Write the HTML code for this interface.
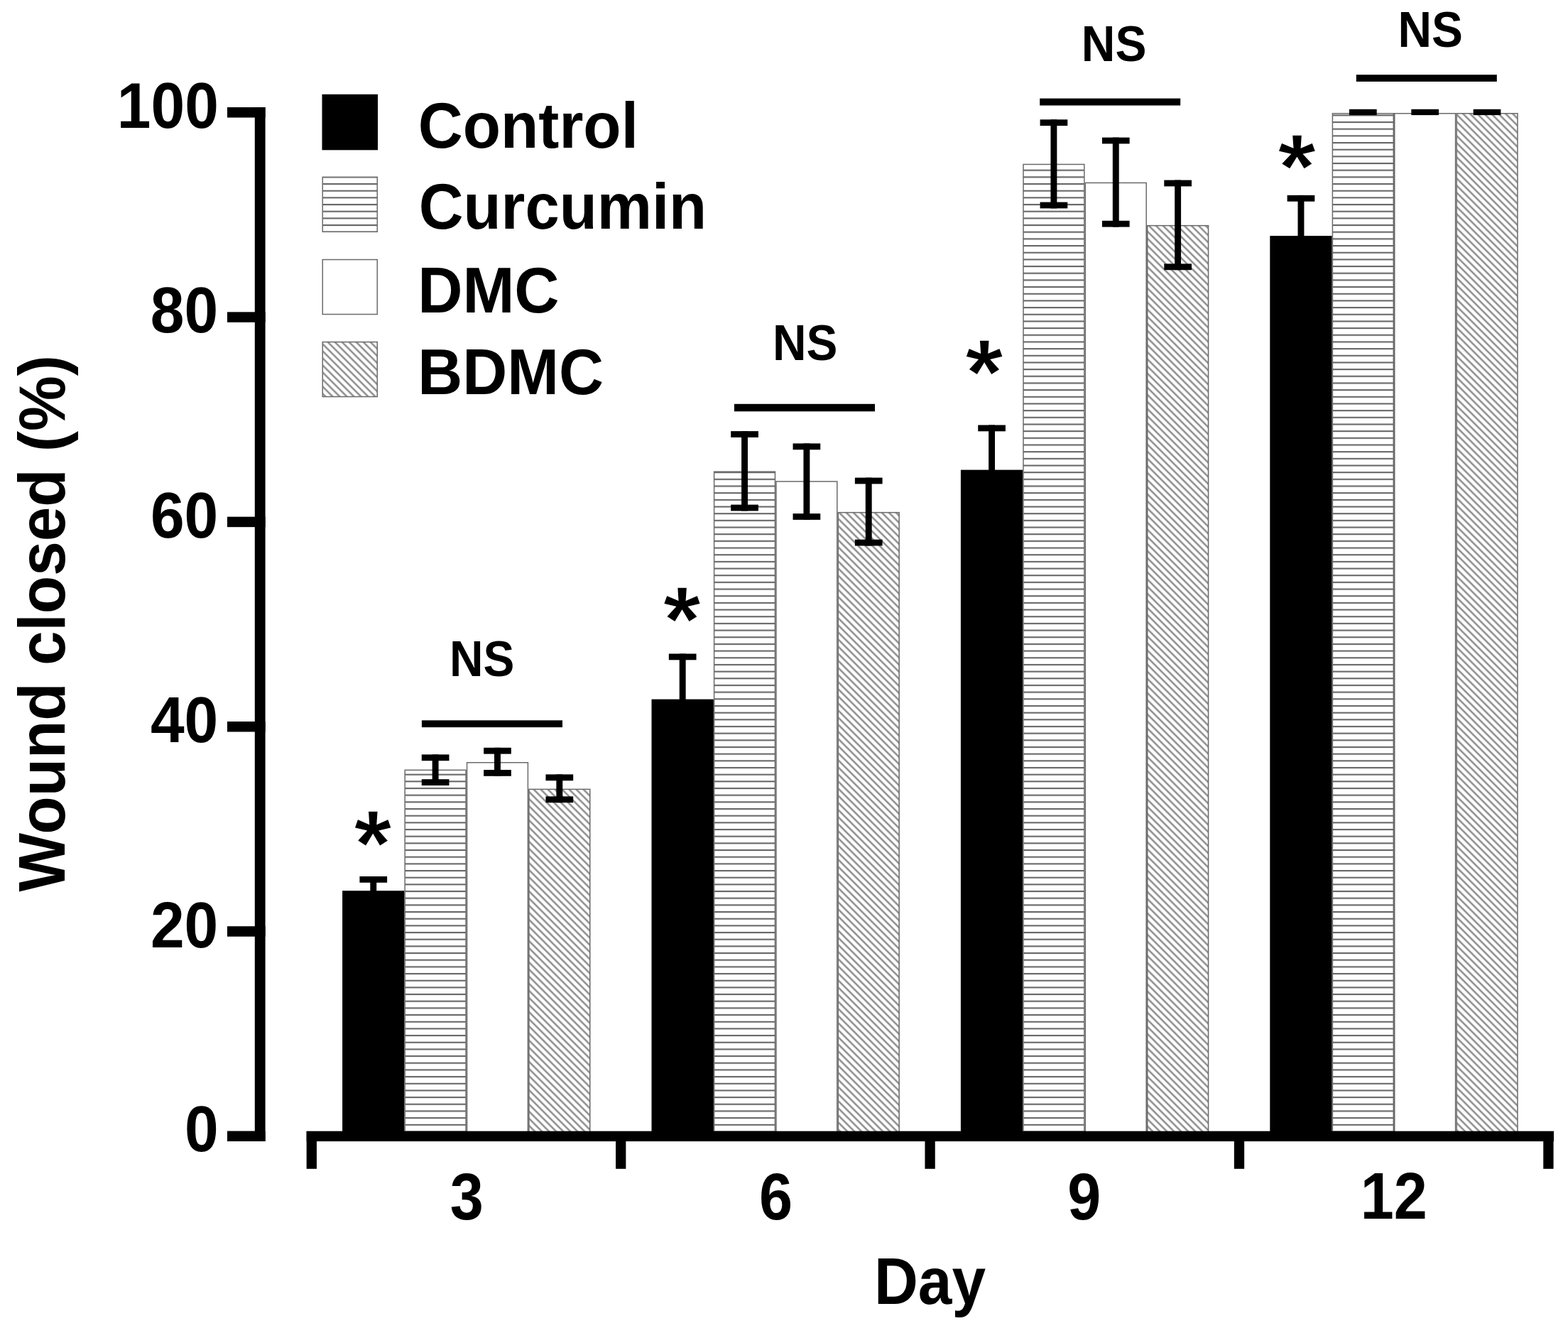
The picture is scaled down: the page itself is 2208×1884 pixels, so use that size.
<!DOCTYPE html>
<html><head><meta charset="utf-8"><title>Wound closed (%) by Day</title>
<style>html,body{margin:0;padding:0;background:#fff;} svg{display:block;}</style></head>
<body>
<svg width="2208" height="1884" viewBox="0 0 2208 1884">
<defs>
<pattern id="hz" patternUnits="userSpaceOnUse" x="0" y="6.6" width="20" height="9.67"><rect width="20" height="9.67" fill="#fff"/><rect x="0" y="0" width="20" height="2.1" fill="#666"/></pattern>
<pattern id="dg" patternUnits="userSpaceOnUse" width="10" height="10"><rect width="10" height="10" fill="#fff"/><path d="M-2,-2 L12,12 M-12,-2 L2,12 M8,-2 L22,12" stroke="#b4b4b4" stroke-width="3.2"/><path d="M-2,-2 L12,12 M-12,-2 L2,12 M8,-2 L22,12" stroke="#6a6a6a" stroke-width="0.9"/></pattern>
</defs>
<rect width="2208" height="1884" fill="#fff"/>
<g><rect x="482.10" y="1254.20" width="87.35" height="345.80" fill="#000"/><rect x="570.20" y="1084.35" width="85.85" height="516.40" fill="url(#hz)" stroke="#6a6a6a" stroke-width="1.5"/><rect x="657.55" y="1073.75" width="85.85" height="527.00" fill="#fff" stroke="#6a6a6a" stroke-width="1.5"/><rect x="744.90" y="1111.35" width="85.85" height="489.40" fill="url(#dg)" stroke="#6a6a6a" stroke-width="1.5"/><rect x="917.50" y="984.60" width="87.35" height="615.40" fill="#000"/><rect x="1005.60" y="664.15" width="85.85" height="936.60" fill="url(#hz)" stroke="#6a6a6a" stroke-width="1.5"/><rect x="1092.95" y="677.95" width="85.85" height="922.80" fill="#fff" stroke="#6a6a6a" stroke-width="1.5"/><rect x="1180.30" y="721.65" width="85.85" height="879.10" fill="url(#dg)" stroke="#6a6a6a" stroke-width="1.5"/><rect x="1352.90" y="661.60" width="87.35" height="938.40" fill="#000"/><rect x="1441.00" y="231.45" width="85.85" height="1369.30" fill="url(#hz)" stroke="#6a6a6a" stroke-width="1.5"/><rect x="1528.35" y="257.45" width="85.85" height="1343.30" fill="#fff" stroke="#6a6a6a" stroke-width="1.5"/><rect x="1615.70" y="317.65" width="85.85" height="1283.10" fill="url(#dg)" stroke="#6a6a6a" stroke-width="1.5"/><rect x="1788.30" y="332.10" width="87.35" height="1267.90" fill="#000"/><rect x="1876.40" y="159.75" width="85.85" height="1441.00" fill="url(#hz)" stroke="#6a6a6a" stroke-width="1.5"/><rect x="1963.75" y="159.75" width="85.85" height="1441.00" fill="#fff" stroke="#6a6a6a" stroke-width="1.5"/><rect x="2051.10" y="159.75" width="85.85" height="1441.00" fill="url(#dg)" stroke="#6a6a6a" stroke-width="1.5"/></g>
<g fill="#000"><rect x="506.42" y="1234.00" width="38.7" height="8.8"/><rect x="521.32" y="1234.00" width="8.9" height="21.20"/><rect x="593.77" y="1062.40" width="38.7" height="8.8"/><rect x="593.77" y="1097.20" width="38.7" height="8.8"/><rect x="608.67" y="1062.40" width="8.9" height="43.60"/><rect x="681.12" y="1052.80" width="38.7" height="8.8"/><rect x="681.12" y="1084.00" width="38.7" height="8.8"/><rect x="696.02" y="1052.80" width="8.9" height="40.00"/><rect x="768.47" y="1090.40" width="38.7" height="8.8"/><rect x="768.47" y="1121.40" width="38.7" height="8.8"/><rect x="783.37" y="1090.40" width="8.9" height="39.80"/><rect x="941.82" y="920.50" width="38.7" height="8.8"/><rect x="956.72" y="920.50" width="8.9" height="65.10"/><rect x="1029.18" y="607.10" width="38.7" height="8.8"/><rect x="1029.18" y="710.60" width="38.7" height="8.8"/><rect x="1044.08" y="607.10" width="8.9" height="112.30"/><rect x="1116.53" y="624.40" width="38.7" height="8.8"/><rect x="1116.53" y="723.10" width="38.7" height="8.8"/><rect x="1131.42" y="624.40" width="8.9" height="107.50"/><rect x="1203.88" y="672.60" width="38.7" height="8.8"/><rect x="1203.88" y="759.70" width="38.7" height="8.8"/><rect x="1218.77" y="672.60" width="8.9" height="95.90"/><rect x="1377.23" y="598.50" width="38.7" height="8.8"/><rect x="1392.12" y="598.50" width="8.9" height="64.10"/><rect x="1464.58" y="168.30" width="38.7" height="8.8"/><rect x="1464.58" y="284.60" width="38.7" height="8.8"/><rect x="1479.47" y="168.30" width="8.9" height="125.10"/><rect x="1551.93" y="193.60" width="38.7" height="8.8"/><rect x="1551.93" y="310.80" width="38.7" height="8.8"/><rect x="1566.83" y="193.60" width="8.9" height="126.00"/><rect x="1639.28" y="253.60" width="38.7" height="8.8"/><rect x="1639.28" y="371.40" width="38.7" height="8.8"/><rect x="1654.17" y="253.60" width="8.9" height="126.60"/><rect x="1812.62" y="274.90" width="38.7" height="8.8"/><rect x="1827.52" y="274.90" width="8.9" height="58.20"/><rect x="1899.97" y="153.80" width="38.7" height="8.30"/><rect x="1987.32" y="153.80" width="38.7" height="8.30"/><rect x="2074.67" y="153.80" width="38.7" height="8.30"/></g>
<g fill="#000"><rect x="358.8" y="151.0" width="14.8" height="1456.0"/><rect x="320.0" y="151.05" width="53.6" height="14.5"/><rect x="320.0" y="439.35" width="53.6" height="14.5"/><rect x="320.0" y="727.65" width="53.6" height="14.5"/><rect x="320.0" y="1015.95" width="53.6" height="14.5"/><rect x="320.0" y="1304.25" width="53.6" height="14.5"/><rect x="320.0" y="1592.55" width="53.6" height="14.5"/><rect x="431.7" y="1592.7" width="1756.3" height="14.4"/><rect x="431.65" y="1593.0" width="14.3" height="52.8"/><rect x="867.05" y="1593.0" width="14.3" height="52.8"/><rect x="1302.45" y="1593.0" width="14.3" height="52.8"/><rect x="1737.85" y="1593.0" width="14.3" height="52.8"/><rect x="2173.25" y="1593.0" width="14.3" height="52.8"/><rect x="593.9" y="1014.3" width="198.1" height="9.8"/><rect x="1033.9" y="568.8" width="198.1" height="10.5"/><rect x="1464.2" y="138.6" width="198.0" height="9.9"/><rect x="1909.8" y="105.2" width="198.0" height="9.7"/></g>
<g><rect x="453.5" y="132.8" width="78.5" height="78.5" fill="#000"/><rect x="454.25" y="249.35" width="77.0" height="77.0" fill="url(#hz)" stroke="#6a6a6a" stroke-width="1.5"/><rect x="454.25" y="365.55" width="77.0" height="77.0" fill="#fff" stroke="#6a6a6a" stroke-width="1.5"/><rect x="454.25" y="481.55" width="77.0" height="77.0" fill="url(#dg)" stroke="#6a6a6a" stroke-width="1.5"/></g>
<g font-family='"Liberation Sans", Arial, Helvetica, sans-serif' font-weight="bold" fill="#000">
<text transform="translate(164.84 180.00) scale(0.9429 1)" font-size="91">100</text>
<text transform="translate(211.79 468.40) scale(0.9429 1)" font-size="91">80</text>
<text transform="translate(211.89 756.70) scale(0.9429 1)" font-size="91">60</text>
<text transform="translate(211.89 1045.00) scale(0.9429 1)" font-size="91">40</text>
<text transform="translate(211.89 1334.20) scale(0.9429 1)" font-size="91">20</text>
<text transform="translate(259.88 1621.30) scale(0.9429 1)" font-size="91">0</text>
<text transform="translate(633.73 1716.80) scale(0.9148 1)" font-size="92.5">3</text>
<text transform="translate(1069.02 1716.60) scale(0.9148 1)" font-size="92.5">6</text>
<text transform="translate(1503.32 1716.60) scale(0.9148 1)" font-size="92.5">9</text>
<text transform="translate(1915.72 1716.40) scale(0.9148 1)" font-size="92.5">12</text>
<text transform="translate(1230.96 1836.30) scale(0.9239 1)" font-size="92.7">Day</text>
<text transform="translate(588.81 207.60) scale(0.9639 1)" font-size="90.5">Control</text>
<text transform="translate(589.82 322.40) scale(0.9597 1)" font-size="90.5">Curcumin</text>
<text transform="translate(588.19 439.50) scale(0.9675 1)" font-size="90.5">DMC</text>
<text transform="translate(588.21 554.90) scale(0.9643 1)" font-size="90.5">BDMC</text>
<text transform="translate(632.88 951.60) scale(0.9293 1)" font-size="70.8">NS</text>
<text transform="translate(1087.88 506.60) scale(0.9293 1)" font-size="70.8">NS</text>
<text transform="translate(1522.87 85.70) scale(0.9315 1)" font-size="70.8">NS</text>
<text transform="translate(1968.38 66.00) scale(0.9293 1)" font-size="70.8">NS</text>
<text transform="translate(498.50 1234.10) scale(1.0229 1)" font-size="133.18" stroke="#fff" stroke-width="1.6">*</text>
<text transform="translate(933.70 918.22) scale(1.0394 1)" font-size="131.33" stroke="#fff" stroke-width="1.6">*</text>
<text transform="translate(1359.30 570.37) scale(1.0390 1)" font-size="132.12" stroke="#fff" stroke-width="1.6">*</text>
<text transform="translate(1799.50 279.77) scale(1.0537 1)" font-size="130.53" stroke="#fff" stroke-width="1.6">*</text>
<text transform="translate(91.10 1255.60) rotate(-90) scale(0.9487 1)" font-size="92.1">Wound closed (%)</text>
</g>
</svg>
</body></html>
